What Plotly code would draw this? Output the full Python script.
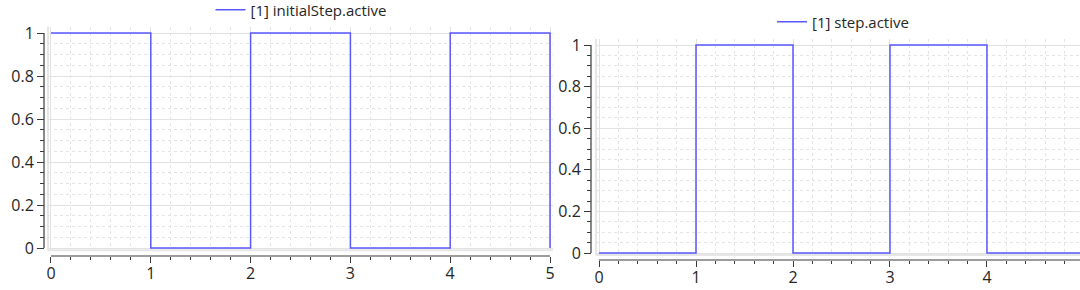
import plotly.graph_objects as go

W, H = 1080, 290

# ---- data ----
t_left = [0, 1, 2, 3, 4, 5]
initial_step_active = [1, 0, 1, 0, 1, 0]
t_right = [0, 1, 2, 3, 4, 5]
step_active = [0, 1, 0, 1, 0, 0]
series_names = ["[1] initialStep.active", "[1] step.active"]
x_ticks_left = [0, 1, 2, 3, 4, 5]
x_ticks_right = [0, 1, 2, 3, 4]
y_ticks = [0, 0.2, 0.4, 0.6, 0.8, 1]
y_tick_text = ["0", "0.2", "0.4", "0.6", "0.8", "1"]

# ---- style ----
LINE = "rgb(88,88,255)"
FONT = "Open Sans"
TXT = "#262626"
SPINE = "#3a3a3a"
GRID = "#e2e2e2"
MGRID = "#e4e4e4"
FRAME = "#e6e6e6"

x_range_left = [-0.03, 5.03]
x_range_right = [-0.03, 4.959]
y_range = [-0.01, 1.03]

fig = go.Figure()
fig.add_trace(go.Scatter(x=t_left, y=initial_step_active, mode="lines", line_shape="hv",
                         line=dict(color=LINE, width=1.5), name=series_names[0],
                         xaxis="x", yaxis="y", legend="legend"))
fig.add_trace(go.Scatter(x=t_right, y=step_active, mode="lines", line_shape="hv",
                         line=dict(color=LINE, width=1.5), name=series_names[1],
                         xaxis="x2", yaxis="y2", legend="legend2"))


def xax(domain, rng, pos, ticks):
    return dict(domain=domain, range=rng, anchor="free", position=pos, automargin=False,
                tickmode="array", tickvals=ticks, ticktext=[str(v) for v in ticks],
                showline=False, zeroline=False, ticks="outside", ticklen=6, tickwidth=1,
                ticklabelstandoff=-3,
                tickcolor=SPINE, showgrid=True, gridcolor=GRID, gridwidth=1,
                tickfont=dict(family=FONT, size=16, color=TXT),
                minor=dict(dtick=0.2, tick0=0, ticks="outside", ticklen=3, tickcolor=SPINE,
                           showgrid=True, gridcolor=MGRID, griddash="dot", gridwidth=1),
                fixedrange=True)


def yax(domain, rng, pos):
    return dict(domain=domain, range=rng, anchor="free", position=pos, automargin=False,
                tickmode="array", tickvals=y_ticks, ticktext=y_tick_text,
                showline=False, zeroline=False, ticks="outside", ticklen=7, tickwidth=1,
                tickcolor=SPINE, showgrid=True, gridcolor=GRID, gridwidth=1,
                tickfont=dict(family=FONT, size=16, color=TXT),
                minor=dict(dtick=0.05, tick0=0, ticks="outside", ticklen=4, tickcolor=SPINE,
                           showgrid=True, gridcolor=MGRID, griddash="dot", gridwidth=1),
                fixedrange=True)


left_x_dom = [48 / W, 553 / W]
left_y_dom = [39.85 / H, 263.45 / H]
right_x_dom = [596.1 / W, 1.0]
right_y_dom = [34.9 / H, 251.2 / H]
left_xpos, left_ypos = 34 / H, 44 / W
right_xpos, right_ypos = 30 / H, 591 / W

shapes = []
for xr, yr in (("x", "y"), ("x2", "y2")):
    shapes.append(dict(type="line", xref=f"{xr} domain", yref=f"{yr} domain",
                       x0=0, x1=0, y0=0, y1=1, line=dict(color=FRAME, width=2), layer="below"))
    shapes.append(dict(type="line", xref=f"{xr} domain", yref=f"{yr} domain",
                       x0=0, x1=1, y0=0, y1=0, line=dict(color=FRAME, width=2), layer="below"))
# axis spines spanning the data range only
shapes.append(dict(type="line", xref="x", yref="paper", x0=x_ticks_left[0], x1=x_ticks_left[-1],
                   y0=left_xpos, y1=left_xpos, line=dict(color=SPINE, width=1.2)))
shapes.append(dict(type="line", xref="paper", yref="y", x0=left_ypos, x1=left_ypos,
                   y0=y_ticks[0], y1=y_ticks[-1], line=dict(color=SPINE, width=1.2)))
shapes.append(dict(type="line", xref="x2", yref="paper", x0=x_ticks_right[0], x1=x_range_right[1],
                   y0=right_xpos, y1=right_xpos, line=dict(color=SPINE, width=1.2)))
shapes.append(dict(type="line", xref="paper", yref="y2", x0=right_ypos, x1=right_ypos,
                   y0=y_ticks[0], y1=y_ticks[-1], line=dict(color=SPINE, width=1.2)))

fig.update_layout(
    template="none",
    width=W, height=H, margin=dict(l=0, r=0, t=0, b=0, pad=0, autoexpand=False),
    paper_bgcolor="white", plot_bgcolor="white",
    font=dict(family=FONT, size=15, color=TXT),
    xaxis=xax(left_x_dom, x_range_left, left_xpos, x_ticks_left),
    yaxis=yax(left_y_dom, y_range, left_ypos),
    xaxis2=xax(right_x_dom, x_range_right, right_xpos, x_ticks_right),
    yaxis2=yax(right_y_dom, y_range, right_ypos),
    legend=dict(orientation="h", x=301 / W, xanchor="center", y=1 - 10 / H, yanchor="middle",
                font=dict(family=FONT, size=15, color=TXT), bgcolor="rgba(0,0,0,0)",
                borderwidth=0),
    legend2=dict(orientation="h", x=843 / W, xanchor="center", y=1 - 22 / H, yanchor="middle",
                 font=dict(family=FONT, size=15, color=TXT), bgcolor="rgba(0,0,0,0)",
                 borderwidth=0),
    shapes=shapes,
    showlegend=True,
)

fig.write_html("out.html", config={"displayModeBar": False})
